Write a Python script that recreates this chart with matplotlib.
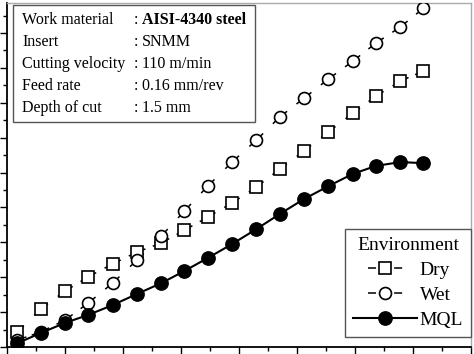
import numpy as np
import matplotlib
matplotlib.use('Agg')
import matplotlib.pyplot as plt
from matplotlib.lines import Line2D
from matplotlib.patches import Rectangle
from matplotlib.ticker import MultipleLocator

plt.rcParams['font.family'] = ['Liberation Serif', 'DejaVu Serif']
plt.rcParams['lines.scale_dashes'] = False

# data (axis units arbitrary, no labels visible)
time = [0.9, 2.9, 5.0, 7.0, 9.1, 11.2, 13.3, 15.3, 17.3, 19.4,
        21.5, 23.5, 25.6, 27.7, 29.8, 31.8, 33.9, 35.9]
dry = [0.43, 1.09, 1.60, 2.01, 2.38, 2.72, 2.98, 3.35, 3.72, 4.13,
       4.58, 5.10, 5.62, 6.16, 6.70, 7.19, 7.62, 7.91]
wet = [0.20, 0.43, 0.77, 1.26, 1.83, 2.49, 3.18, 3.90, 4.61, 5.30,
       5.93, 6.59, 7.13, 7.68, 8.19, 8.71, 9.17, 9.71]
mql = [0.11, 0.40, 0.69, 0.92, 1.20, 1.52, 1.83, 2.18, 2.55, 2.95,
       3.38, 3.81, 4.24, 4.61, 4.96, 5.19, 5.30, 5.27]

info_labels = ['Work material', 'Insert', 'Cutting velocity', 'Feed rate', 'Depth of cut']
info_values = ['AISI-4340 steel', 'SNMM', '110 m/min', '0.16 mm/rev', '1.5 mm']

dpi = 100
W, H = 474, 354
fig = plt.figure(figsize=(W / dpi, H / dpi), dpi=dpi)
# axes box in pixels: x 7..471, y 3..347 (from top)
ax = fig.add_axes([7 / W, (H - 347) / H, 464 / W, 344 / H])
ax.set_xlim(0, 40)
ax.set_ylim(0, 9.86)

ax.xaxis.set_major_locator(MultipleLocator(5))
ax.xaxis.set_minor_locator(MultipleLocator(2.5))
ax.yaxis.set_major_locator(MultipleLocator(1))
ax.yaxis.set_minor_locator(MultipleLocator(0.5))
ax.tick_params(which='major', direction='out', length=5, width=1, labelbottom=False, labelleft=False)
ax.tick_params(which='minor', direction='out', length=2.7, width=1)
for s in ['left', 'bottom']:
    ax.spines[s].set_linewidth(1.3)
for s in ['top', 'right']:
    ax.spines[s].set_color('#aaaaaa')
    ax.spines[s].set_linewidth(1)


def px_x(p):
    return (p - 7) / 464


def px_y(p):
    return (347 - p) / 344


def short_ticks(x, y, ms):
    # dashed link drawn only just outside each marker
    pts = ax.transData.transform(np.column_stack([x, y]))
    r = ms / 72 * dpi / 2
    d = 3.5
    for i in range(len(x) - 1):
        L = np.hypot(*(pts[i + 1] - pts[i]))
        on = r + d
        gap = L - 2 * on
        if gap > 0:
            ax.plot(x[i:i + 2], y[i:i + 2], color='k', lw=1.1, zorder=2,
                    dashes=(on * 72 / dpi, gap * 72 / dpi, on * 72 / dpi, 500))
        else:
            ax.plot(x[i:i + 2], y[i:i + 2], color='k', lw=1.1, zorder=2)


ms_sq, ms_c, ms_f = 8, 8.6, 9.6
short_ticks(time, dry, ms_sq)
short_ticks(time, wet, ms_c)
ax.plot(time, dry, ls='none', marker='s', ms=ms_sq, mfc='white', mec='k', mew=1.2, zorder=3)
ax.plot(time, wet, ls='none', marker='o', ms=ms_c, mfc='white', mec='k', mew=1.2, zorder=3)
ax.plot(time, mql, color='k', lw=1.5, marker='o', ms=ms_f, mfc='k', mec='k', zorder=4)

# info box
ax.add_patch(Rectangle((px_x(13), px_y(122)), 242 / 464, 117 / 344,
                       transform=ax.transAxes, facecolor='white',
                       edgecolor='#555555', lw=1, zorder=5))
row_y = [20, 42, 64, 86, 108]
for i in range(len(info_labels)):
    yy = px_y(row_y[i])
    ax.text(px_x(22), yy, info_labels[i], transform=ax.transAxes,
            fontsize=11.5, va='center', ha='left', zorder=6)
    ax.text(px_x(134), yy, ':', transform=ax.transAxes,
            fontsize=11.5, va='center', ha='left', zorder=6)
    ax.text(px_x(142), yy, info_values[i], transform=ax.transAxes,
            fontsize=11.5, va='center', ha='left', zorder=6,
            fontweight='bold' if i == 0 else 'normal')

# legend
open_dash = (0.001, 10.8, 5.8, 13, 5.8, 100)
h_dry = Line2D([], [], color='k', lw=1.1, marker='s', ms=ms_sq, mfc='white', mec='k', mew=1.2,
               dashes=open_dash)
h_wet = Line2D([], [], color='k', lw=1.1, marker='o', ms=ms_c, mfc='white', mec='k', mew=1.2,
               dashes=open_dash)
h_mql = Line2D([], [], color='k', lw=1.5, marker='o', ms=ms_f, mfc='k', mec='k')
leg = ax.legend([h_dry, h_wet, h_mql], ['Dry', 'Wet', 'MQL'], title='Environment',
                loc='lower right', bbox_to_anchor=(1.0, px_y(337)),
                borderaxespad=0, fontsize=14, title_fontsize=14, frameon=True,
                fancybox=False, edgecolor='#555555', framealpha=1,
                handlelength=3.3, handletextpad=0.15, labelspacing=0.38,
                borderpad=0.4)
leg.get_frame().set_linewidth(1)
leg.set_zorder(6)

fig.savefig('out.png', dpi=dpi)
